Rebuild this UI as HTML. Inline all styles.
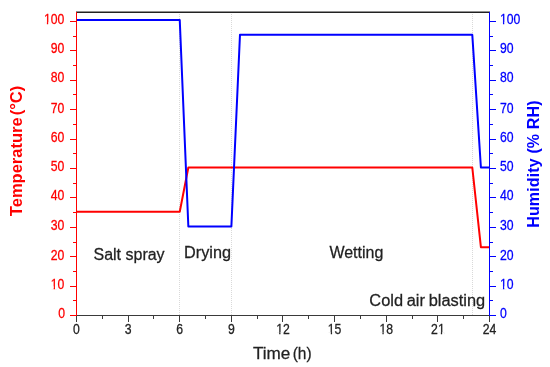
<!DOCTYPE html>
<html><head><meta charset="utf-8"><title>Temperature and humidity cycle</title>
<style>html,body{margin:0;padding:0;background:#fff;width:550px;height:367px;overflow:hidden}</style>
</head><body>
<svg width="550" height="367" viewBox="0 0 550 367" style="display:block">
<g shape-rendering="crispEdges">
<line x1="179.5" y1="14" x2="179.5" y2="315" stroke="#d9d9d9" stroke-width="1" stroke-dasharray="1 1"/>
<line x1="231.5" y1="14" x2="231.5" y2="315" stroke="#d9d9d9" stroke-width="1" stroke-dasharray="1 1"/>
<line x1="472.5" y1="14" x2="472.5" y2="315" stroke="#d9d9d9" stroke-width="1" stroke-dasharray="1 1"/>
</g>
<polyline points="76.50,211.75 179.75,211.75 188.35,167.50 472.29,167.50 480.90,247.15 489.50,247.15" fill="none" stroke="#ff0000" stroke-width="2" stroke-linejoin="round"/>
<polyline points="76.50,20.00 179.75,20.00 188.35,226.50 231.38,226.50 239.98,34.75 472.29,34.75 480.90,167.50 489.50,167.50" fill="none" stroke="#0000ff" stroke-width="2" stroke-linejoin="round"/>
<line x1="76" y1="12.3" x2="490" y2="12.3" stroke="#222" stroke-width="1.4"/>
<g shape-rendering="crispEdges">
<line x1="76" y1="315.5" x2="490" y2="315.5" stroke="#3a3a3a" stroke-width="1"/>
<line x1="76.5" y1="316" x2="76.5" y2="322" stroke="#3a3a3a" stroke-width="1"/>
<line x1="102.5" y1="316" x2="102.5" y2="319" stroke="#3a3a3a" stroke-width="1"/>
<line x1="128.5" y1="316" x2="128.5" y2="322" stroke="#3a3a3a" stroke-width="1"/>
<line x1="153.5" y1="316" x2="153.5" y2="319" stroke="#3a3a3a" stroke-width="1"/>
<line x1="179.5" y1="316" x2="179.5" y2="322" stroke="#3a3a3a" stroke-width="1"/>
<line x1="205.5" y1="316" x2="205.5" y2="319" stroke="#3a3a3a" stroke-width="1"/>
<line x1="231.5" y1="316" x2="231.5" y2="322" stroke="#3a3a3a" stroke-width="1"/>
<line x1="257.5" y1="316" x2="257.5" y2="319" stroke="#3a3a3a" stroke-width="1"/>
<line x1="282.5" y1="316" x2="282.5" y2="322" stroke="#3a3a3a" stroke-width="1"/>
<line x1="308.5" y1="316" x2="308.5" y2="319" stroke="#3a3a3a" stroke-width="1"/>
<line x1="334.5" y1="316" x2="334.5" y2="322" stroke="#3a3a3a" stroke-width="1"/>
<line x1="360.5" y1="316" x2="360.5" y2="319" stroke="#3a3a3a" stroke-width="1"/>
<line x1="386.5" y1="316" x2="386.5" y2="322" stroke="#3a3a3a" stroke-width="1"/>
<line x1="412.5" y1="316" x2="412.5" y2="319" stroke="#3a3a3a" stroke-width="1"/>
<line x1="437.5" y1="316" x2="437.5" y2="322" stroke="#3a3a3a" stroke-width="1"/>
<line x1="463.5" y1="316" x2="463.5" y2="319" stroke="#3a3a3a" stroke-width="1"/>
<line x1="489.5" y1="316" x2="489.5" y2="322" stroke="#3a3a3a" stroke-width="1"/>
<line x1="76.5" y1="12" x2="76.5" y2="316" stroke="#ff0000" stroke-width="1"/>
<line x1="70" y1="315.5" x2="76" y2="315.5" stroke="#ff0000" stroke-width="1"/>
<line x1="73" y1="300.5" x2="76" y2="300.5" stroke="#ff0000" stroke-width="1"/>
<line x1="70" y1="286.5" x2="76" y2="286.5" stroke="#ff0000" stroke-width="1"/>
<line x1="73" y1="271.5" x2="76" y2="271.5" stroke="#ff0000" stroke-width="1"/>
<line x1="70" y1="256.5" x2="76" y2="256.5" stroke="#ff0000" stroke-width="1"/>
<line x1="73" y1="242.5" x2="76" y2="242.5" stroke="#ff0000" stroke-width="1"/>
<line x1="70" y1="227.5" x2="76" y2="227.5" stroke="#ff0000" stroke-width="1"/>
<line x1="73" y1="212.5" x2="76" y2="212.5" stroke="#ff0000" stroke-width="1"/>
<line x1="70" y1="197.5" x2="76" y2="197.5" stroke="#ff0000" stroke-width="1"/>
<line x1="73" y1="183.5" x2="76" y2="183.5" stroke="#ff0000" stroke-width="1"/>
<line x1="70" y1="168.5" x2="76" y2="168.5" stroke="#ff0000" stroke-width="1"/>
<line x1="73" y1="153.5" x2="76" y2="153.5" stroke="#ff0000" stroke-width="1"/>
<line x1="70" y1="139.5" x2="76" y2="139.5" stroke="#ff0000" stroke-width="1"/>
<line x1="73" y1="124.5" x2="76" y2="124.5" stroke="#ff0000" stroke-width="1"/>
<line x1="70" y1="109.5" x2="76" y2="109.5" stroke="#ff0000" stroke-width="1"/>
<line x1="73" y1="94.5" x2="76" y2="94.5" stroke="#ff0000" stroke-width="1"/>
<line x1="70" y1="80.5" x2="76" y2="80.5" stroke="#ff0000" stroke-width="1"/>
<line x1="73" y1="65.5" x2="76" y2="65.5" stroke="#ff0000" stroke-width="1"/>
<line x1="70" y1="50.5" x2="76" y2="50.5" stroke="#ff0000" stroke-width="1"/>
<line x1="73" y1="36.5" x2="76" y2="36.5" stroke="#ff0000" stroke-width="1"/>
<line x1="70" y1="21.5" x2="76" y2="21.5" stroke="#ff0000" stroke-width="1"/>
<line x1="489.5" y1="12" x2="489.5" y2="316" stroke="#0000ff" stroke-width="1"/>
<line x1="490" y1="315.5" x2="496" y2="315.5" stroke="#0000ff" stroke-width="1"/>
<line x1="490" y1="300.5" x2="493" y2="300.5" stroke="#0000ff" stroke-width="1"/>
<line x1="490" y1="286.5" x2="496" y2="286.5" stroke="#0000ff" stroke-width="1"/>
<line x1="490" y1="271.5" x2="493" y2="271.5" stroke="#0000ff" stroke-width="1"/>
<line x1="490" y1="256.5" x2="496" y2="256.5" stroke="#0000ff" stroke-width="1"/>
<line x1="490" y1="242.5" x2="493" y2="242.5" stroke="#0000ff" stroke-width="1"/>
<line x1="490" y1="227.5" x2="496" y2="227.5" stroke="#0000ff" stroke-width="1"/>
<line x1="490" y1="212.5" x2="493" y2="212.5" stroke="#0000ff" stroke-width="1"/>
<line x1="490" y1="197.5" x2="496" y2="197.5" stroke="#0000ff" stroke-width="1"/>
<line x1="490" y1="183.5" x2="493" y2="183.5" stroke="#0000ff" stroke-width="1"/>
<line x1="490" y1="168.5" x2="496" y2="168.5" stroke="#0000ff" stroke-width="1"/>
<line x1="490" y1="153.5" x2="493" y2="153.5" stroke="#0000ff" stroke-width="1"/>
<line x1="490" y1="139.5" x2="496" y2="139.5" stroke="#0000ff" stroke-width="1"/>
<line x1="490" y1="124.5" x2="493" y2="124.5" stroke="#0000ff" stroke-width="1"/>
<line x1="490" y1="109.5" x2="496" y2="109.5" stroke="#0000ff" stroke-width="1"/>
<line x1="490" y1="94.5" x2="493" y2="94.5" stroke="#0000ff" stroke-width="1"/>
<line x1="490" y1="80.5" x2="496" y2="80.5" stroke="#0000ff" stroke-width="1"/>
<line x1="490" y1="65.5" x2="493" y2="65.5" stroke="#0000ff" stroke-width="1"/>
<line x1="490" y1="50.5" x2="496" y2="50.5" stroke="#0000ff" stroke-width="1"/>
<line x1="490" y1="36.5" x2="493" y2="36.5" stroke="#0000ff" stroke-width="1"/>
<line x1="490" y1="21.5" x2="496" y2="21.5" stroke="#0000ff" stroke-width="1"/>
</g>
<g font-family="'Liberation Sans', Arial, sans-serif">
<g transform="translate(65.10,317.85) scale(0.94,1.1)"><text text-anchor="end" fill="#ff0000" stroke="#ff0000" stroke-width="0.25" font-size="13">0</text></g>
<g transform="translate(500.00,317.85) scale(0.94,1.1)"><text fill="#0000ff" stroke="#0000ff" stroke-width="0.25" font-size="13">0</text></g>
<g transform="translate(64.30,288.55) scale(0.94,1.1)"><text text-anchor="end" fill="#ff0000" stroke="#ff0000" stroke-width="0.25" font-size="13">10</text><rect fill="#fff" x="-14.27" y="-1.97" width="2.96" height="3.07"/><rect fill="#fff" x="-9.92" y="-1.97" width="2.88" height="3.07"/></g>
<g transform="translate(500.00,288.55) scale(0.94,1.1)"><text fill="#0000ff" stroke="#0000ff" stroke-width="0.25" font-size="13">10</text><rect fill="#fff" x="0.19" y="-1.97" width="2.96" height="3.07"/><rect fill="#fff" x="4.54" y="-1.97" width="2.88" height="3.07"/></g>
<g transform="translate(64.30,260.30) scale(0.94,1.1)"><text text-anchor="end" fill="#ff0000" stroke="#ff0000" stroke-width="0.25" font-size="13">20</text></g>
<g transform="translate(500.00,260.30) scale(0.94,1.1)"><text fill="#0000ff" stroke="#0000ff" stroke-width="0.25" font-size="13">20</text></g>
<g transform="translate(64.30,229.95) scale(0.94,1.1)"><text text-anchor="end" fill="#ff0000" stroke="#ff0000" stroke-width="0.25" font-size="13">30</text></g>
<g transform="translate(500.00,229.95) scale(0.94,1.1)"><text fill="#0000ff" stroke="#0000ff" stroke-width="0.25" font-size="13">30</text></g>
<g transform="translate(64.30,200.25) scale(0.94,1.1)"><text text-anchor="end" fill="#ff0000" stroke="#ff0000" stroke-width="0.25" font-size="13">40</text></g>
<g transform="translate(500.00,200.25) scale(0.94,1.1)"><text fill="#0000ff" stroke="#0000ff" stroke-width="0.25" font-size="13">40</text></g>
<g transform="translate(64.30,170.50) scale(0.94,1.1)"><text text-anchor="end" fill="#ff0000" stroke="#ff0000" stroke-width="0.25" font-size="13">50</text></g>
<g transform="translate(500.00,170.50) scale(0.94,1.1)"><text fill="#0000ff" stroke="#0000ff" stroke-width="0.25" font-size="13">50</text></g>
<g transform="translate(64.30,141.60) scale(0.94,1.1)"><text text-anchor="end" fill="#ff0000" stroke="#ff0000" stroke-width="0.25" font-size="13">60</text></g>
<g transform="translate(500.00,141.60) scale(0.94,1.1)"><text fill="#0000ff" stroke="#0000ff" stroke-width="0.25" font-size="13">60</text></g>
<g transform="translate(64.30,112.55) scale(0.94,1.1)"><text text-anchor="end" fill="#ff0000" stroke="#ff0000" stroke-width="0.25" font-size="13">70</text></g>
<g transform="translate(500.00,112.55) scale(0.94,1.1)"><text fill="#0000ff" stroke="#0000ff" stroke-width="0.25" font-size="13">70</text></g>
<g transform="translate(64.30,82.35) scale(0.94,1.1)"><text text-anchor="end" fill="#ff0000" stroke="#ff0000" stroke-width="0.25" font-size="13">80</text></g>
<g transform="translate(500.00,82.35) scale(0.94,1.1)"><text fill="#0000ff" stroke="#0000ff" stroke-width="0.25" font-size="13">80</text></g>
<g transform="translate(64.30,53.10) scale(0.94,1.1)"><text text-anchor="end" fill="#ff0000" stroke="#ff0000" stroke-width="0.25" font-size="13">90</text></g>
<g transform="translate(500.00,53.10) scale(0.94,1.1)"><text fill="#0000ff" stroke="#0000ff" stroke-width="0.25" font-size="13">90</text></g>
<g transform="translate(64.30,24.35) scale(0.94,1.1)"><text text-anchor="end" fill="#ff0000" stroke="#ff0000" stroke-width="0.25" font-size="13">100</text><rect fill="#fff" x="-21.50" y="-1.97" width="2.96" height="3.07"/><rect fill="#fff" x="-17.15" y="-1.97" width="2.88" height="3.07"/></g>
<g transform="translate(500.00,24.35) scale(0.94,1.1)"><text fill="#0000ff" stroke="#0000ff" stroke-width="0.25" font-size="13">100</text><rect fill="#fff" x="0.19" y="-1.97" width="2.96" height="3.07"/><rect fill="#fff" x="4.54" y="-1.97" width="2.88" height="3.07"/></g>
<g transform="translate(76.50,334.40) scale(0.94,1.1)"><text text-anchor="middle" fill="#222" stroke="#222" stroke-width="0.25" font-size="13">0</text></g>
<g transform="translate(128.12,334.40) scale(0.94,1.1)"><text text-anchor="middle" fill="#222" stroke="#222" stroke-width="0.25" font-size="13">3</text></g>
<g transform="translate(179.75,334.40) scale(0.94,1.1)"><text text-anchor="middle" fill="#222" stroke="#222" stroke-width="0.25" font-size="13">6</text></g>
<g transform="translate(231.38,334.40) scale(0.94,1.1)"><text text-anchor="middle" fill="#222" stroke="#222" stroke-width="0.25" font-size="13">9</text></g>
<g transform="translate(283.00,334.40) scale(0.94,1.1)"><text text-anchor="middle" fill="#222" stroke="#222" stroke-width="0.25" font-size="13">12</text><rect fill="#fff" x="-7.04" y="-1.97" width="2.96" height="3.07"/><rect fill="#fff" x="-2.69" y="-1.97" width="2.88" height="3.07"/></g>
<g transform="translate(334.62,334.40) scale(0.94,1.1)"><text text-anchor="middle" fill="#222" stroke="#222" stroke-width="0.25" font-size="13">15</text><rect fill="#fff" x="-7.04" y="-1.97" width="2.96" height="3.07"/><rect fill="#fff" x="-2.69" y="-1.97" width="2.88" height="3.07"/></g>
<g transform="translate(386.25,334.40) scale(0.94,1.1)"><text text-anchor="middle" fill="#222" stroke="#222" stroke-width="0.25" font-size="13">18</text><rect fill="#fff" x="-7.04" y="-1.97" width="2.96" height="3.07"/><rect fill="#fff" x="-2.69" y="-1.97" width="2.88" height="3.07"/></g>
<g transform="translate(437.88,334.40) scale(0.94,1.1)"><text text-anchor="middle" fill="#222" stroke="#222" stroke-width="0.25" font-size="13">21</text><rect fill="#fff" x="0.19" y="-1.97" width="2.96" height="3.07"/><rect fill="#fff" x="4.54" y="-1.97" width="2.88" height="3.07"/></g>
<g transform="translate(489.50,334.40) scale(0.94,1.1)"><text text-anchor="middle" fill="#222" stroke="#222" stroke-width="0.25" font-size="13">24</text></g>
<text transform="translate(253.00,358.90) scale(1,1.08)" fill="#222" stroke="#222" stroke-width="0.25" font-size="16" textLength="37.4" lengthAdjust="spacingAndGlyphs">Time</text>
<text transform="translate(292.70,358.90) scale(1,1.08)" fill="#222" stroke="#222" stroke-width="0.25" font-size="16" textLength="18.9" lengthAdjust="spacingAndGlyphs">(h)</text>
<text transform="translate(93.50,259.50) scale(1,1.08)" fill="#222" stroke="#222" stroke-width="0.25" font-size="16">Salt spray</text>
<text transform="translate(184.10,258.00) scale(1,1.08)" fill="#222" stroke="#222" stroke-width="0.25" font-size="16" textLength="46.9" lengthAdjust="spacingAndGlyphs">Drying</text>
<text transform="translate(329.40,258.00) scale(1,1.08)" fill="#222" stroke="#222" stroke-width="0.25" font-size="16">Wetting</text>
<text transform="translate(369.30,306.10) scale(1,1.08)" fill="#222" stroke="#222" stroke-width="0.25" font-size="16" word-spacing="-0.8" textLength="115.8" lengthAdjust="spacingAndGlyphs">Cold air blasting</text>
<text transform="translate(22,151) rotate(-90) scale(1,1.05)" text-anchor="middle" fill="#ff0000" font-size="16" font-weight="bold" word-spacing="-2.5" textLength="130.3" lengthAdjust="spacingAndGlyphs">Temperature (°C)</text>
<text transform="translate(538.8,164.1) rotate(-90) scale(1,1.05)" text-anchor="middle" fill="#0000ff" font-size="16" font-weight="bold" textLength="127.3" lengthAdjust="spacing">Humidity (% RH)</text>
</g>
</svg>
</body></html>
